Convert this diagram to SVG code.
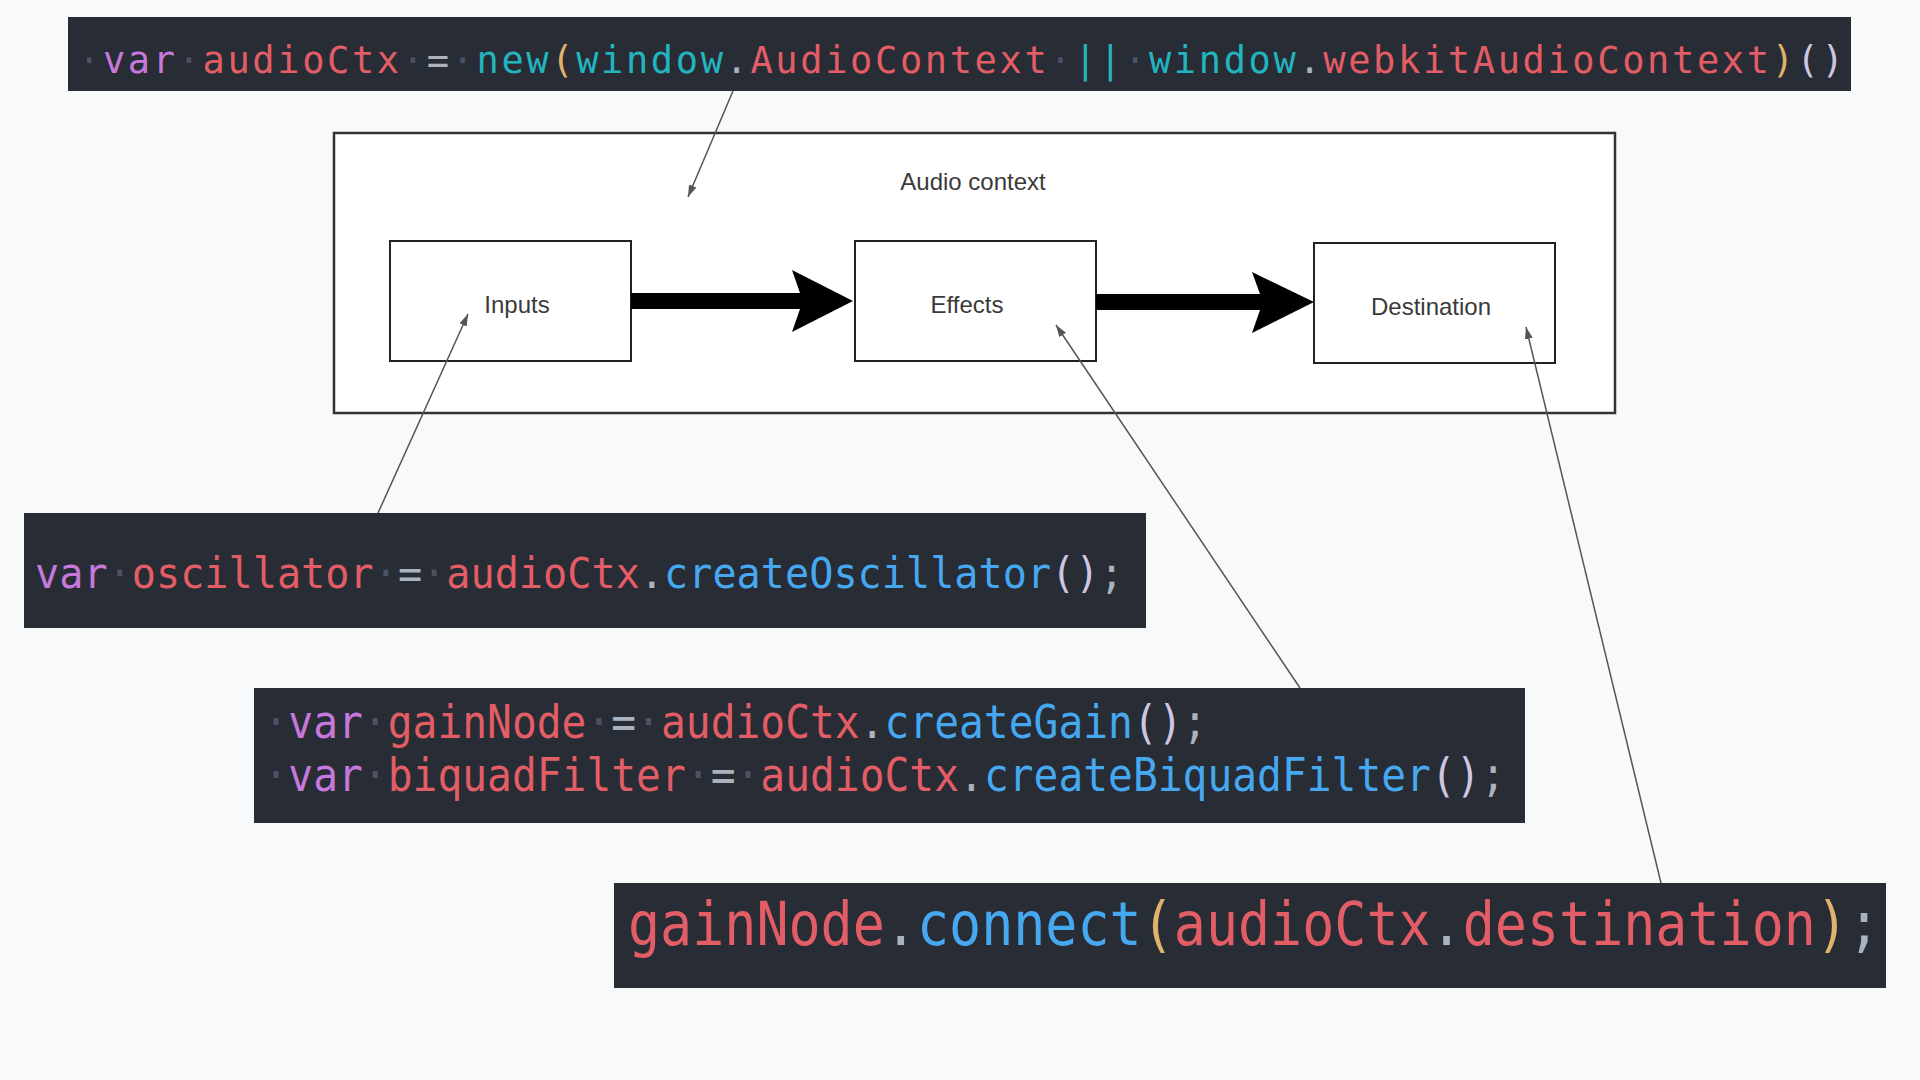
<svg xmlns="http://www.w3.org/2000/svg" width="1920" height="1080" viewBox="0 0 1920 1080">
  <style>
    .bg { fill: #f8f9fb; }
    .bar { fill: #282c34; }
    .code { font-family: "DejaVu Sans Mono", "Liberation Mono", monospace; }
    .kw { fill: #c678dd; }
    .id { fill: #e35d66; }
    .cy { fill: #22b5c0; }
    .fn { fill: #45a8f0; }
    .op { fill: #abb2bf; }
    .ws { fill: #4b5263; }
    .p1 { fill: #e0b36a; }
    .p2 { fill: #cfc6e4; }
    .box { fill: #ffffff; stroke: #222222; stroke-width: 2; }
    .frame { fill: #ffffff; stroke: #333333; stroke-width: 2.5; }
    .label { font-family: "Liberation Sans", Arial, sans-serif; font-size: 24px; fill: #3a3a3a; text-anchor: middle; }
    .thin { stroke: #555555; stroke-width: 1.5; fill: none; marker-end: url(#tip); }
    .fat { fill: #000000; }
  </style>
  <defs>
    <marker id="tip" viewBox="0 0 12 8" refX="12" refY="4" markerWidth="12" markerHeight="8" markerUnits="userSpaceOnUse" orient="auto">
      <path d="M0,0 L12,4 L0,8 z" fill="#555555"/>
    </marker>
  </defs>

  <rect class="bg" x="0" y="0" width="1920" height="1080"/>

  <g id="audio-context">
    <rect class="frame" x="334" y="133" width="1281" height="280"/>
    <text class="label" x="973" y="190">Audio context</text>
  </g>

  <g id="inputs">
    <rect class="box" x="390" y="241" width="241" height="120"/>
    <text class="label" x="517" y="313">Inputs</text>
  </g>

  <g id="effects">
    <rect class="box" x="855" y="241" width="241" height="120"/>
    <text class="label" x="967" y="313">Effects</text>
  </g>

  <g id="destination">
    <rect class="box" x="1314" y="243" width="241" height="120"/>
    <text class="label" x="1431" y="315">Destination</text>
  </g>

  <g id="code-audioctx">
    <rect class="bar" x="68" y="17" width="1783" height="74"/>
    <text class="code" x="78" y="73" font-size="37" letter-spacing="2.63"><tspan class="ws">·</tspan><tspan class="kw">var</tspan><tspan class="ws">·</tspan><tspan class="id">audioCtx</tspan><tspan class="ws">·</tspan><tspan class="op">=</tspan><tspan class="ws">·</tspan><tspan class="cy">new</tspan><tspan class="p1">(</tspan><tspan class="cy">window</tspan><tspan class="op">.</tspan><tspan class="id">AudioContext</tspan><tspan class="ws">·</tspan><tspan class="cy">||</tspan><tspan class="ws">·</tspan><tspan class="cy">window</tspan><tspan class="op">.</tspan><tspan class="id">webkitAudioContext</tspan><tspan class="p1">)</tspan><tspan class="p2">()</tspan></text>
  </g>

  <g id="code-oscillator">
    <rect class="bar" x="24" y="513" width="1122" height="115"/>
    <text class="code" transform="translate(35,588) scale(0.957,1)" font-size="42"><tspan class="kw">var</tspan><tspan class="ws">·</tspan><tspan class="id">oscillator</tspan><tspan class="ws">·</tspan><tspan class="op">=</tspan><tspan class="ws">·</tspan><tspan class="id">audioCtx</tspan><tspan class="op">.</tspan><tspan class="fn">createOscillator</tspan><tspan class="p2">()</tspan><tspan class="op">;</tspan></text>
  </g>

  <g id="code-effects">
    <rect class="bar" x="254" y="688" width="1271" height="135"/>
    <text class="code" transform="translate(263.5,738) scale(0.897,1)" font-size="46"><tspan class="ws">·</tspan><tspan class="kw">var</tspan><tspan class="ws">·</tspan><tspan class="id">gainNode</tspan><tspan class="ws">·</tspan><tspan class="op">=</tspan><tspan class="ws">·</tspan><tspan class="id">audioCtx</tspan><tspan class="op">.</tspan><tspan class="fn">createGain</tspan><tspan class="p2">()</tspan><tspan class="op">;</tspan></text>
    <text class="code" transform="translate(263.5,791) scale(0.897,1)" font-size="46"><tspan class="ws">·</tspan><tspan class="kw">var</tspan><tspan class="ws">·</tspan><tspan class="id">biquadFilter</tspan><tspan class="ws">·</tspan><tspan class="op">=</tspan><tspan class="ws">·</tspan><tspan class="id">audioCtx</tspan><tspan class="op">.</tspan><tspan class="fn">createBiquadFilter</tspan><tspan class="p2">()</tspan><tspan class="op">;</tspan></text>
  </g>

  <g id="code-connect">
    <rect class="bar" x="614" y="883" width="1272" height="105"/>
    <text class="code" transform="translate(628,945) scale(0.889,1)" font-size="60"><tspan class="id">gainNode</tspan><tspan class="op">.</tspan><tspan class="fn">connect</tspan><tspan class="p1">(</tspan><tspan class="id">audioCtx</tspan><tspan class="op">.</tspan><tspan class="id">destination</tspan><tspan class="p1">)</tspan><tspan class="op">;</tspan></text>
  </g>

  <g id="connectors">
    <polygon class="fat" points="631,293 800,293 792,270 853,301 792,332 800,309 631,309"/>
    <polygon class="fat" points="1096,294 1260,294 1252,272 1314,302 1252,333 1260,310 1096,310"/>
    <line class="thin" x1="733" y1="91" x2="688" y2="197"/>
    <line class="thin" x1="378" y1="513" x2="468" y2="314"/>
    <line class="thin" x1="1300" y1="688" x2="1056" y2="325"/>
    <line class="thin" x1="1661" y1="883" x2="1526" y2="327"/>
  </g>
</svg>
